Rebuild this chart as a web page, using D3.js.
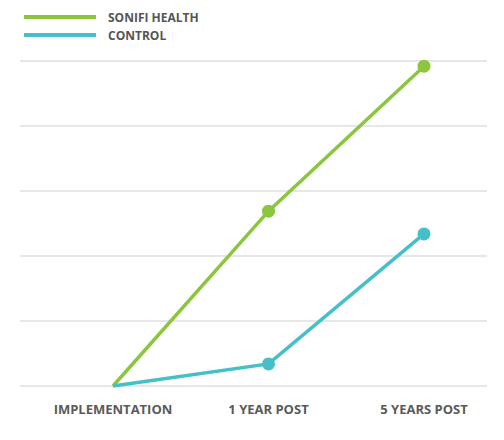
<!DOCTYPE html>
<html><head><meta charset="utf-8">
<script src="https://cdn.jsdelivr.net/npm/d3@7"></script>
<style>body{margin:0;background:#fff}</style></head>
<body><svg id="c" width="504" height="440"></svg>
<script>
const categories = ["IMPLEMENTATION", "1 YEAR POST", "5 YEARS POST"];
const sonifi = [0, 2.69, 4.92];
const control = [0, 0.34, 2.34];
const seriesNames = ["SONIFI HEALTH", "CONTROL"];
const gridTicks = [0, 1, 2, 3, 4, 5];

const svg = d3.select("#c");
const x = d3.scalePoint().domain(categories).range([113, 424]);
const y = d3.scaleLinear().domain([0, 5]).range([386, 61]);
const colors = ["#8cc63f", "#45c0c9"];

svg.append("g").selectAll("line").data(gridTicks).join("line")
  .attr("x1", 20).attr("x2", 487).attr("y1", d => y(d)).attr("y2", d => y(d))
  .attr("stroke", "#cfcfcf").attr("stroke-width", 1.2);

svg.append("g").selectAll("text").data(categories).join("text")
  .attr("x", d => x(d)).attr("y", 414).attr("text-anchor", "middle")
  .attr("font-family", "'Open Sans', sans-serif").attr("font-weight", "bold")
  .attr("font-size", 13).attr("fill", "#5a5a5a").text(d => d);

const line = d3.line().x((d, i) => x(categories[i])).y(d => y(d));
[sonifi, control].forEach((s, k) => {
  svg.append("path").attr("d", line(s)).attr("fill", "none")
    .attr("stroke", colors[k]).attr("stroke-width", 3.5);
  svg.append("g").selectAll("circle").data(s.slice(1)).join("circle")
    .attr("cx", (d, i) => x(categories[i + 1])).attr("cy", d => y(d))
    .attr("r", 6.5).attr("fill", colors[k]);
});

const leg = svg.append("g").selectAll("g").data(seriesNames).join("g")
  .attr("transform", (d, i) => `translate(0,${17 + i * 18})`);
leg.append("line").attr("x1", 24).attr("x2", 96).attr("stroke", (d, i) => colors[i]).attr("stroke-width", 4);
leg.append("text").attr("x", 108).attr("y", 4.5)
  .attr("font-family", "'Open Sans', sans-serif").attr("font-weight", "bold")
  .attr("font-size", 12).attr("fill", "#555").text(d => d);
</script></body></html>
